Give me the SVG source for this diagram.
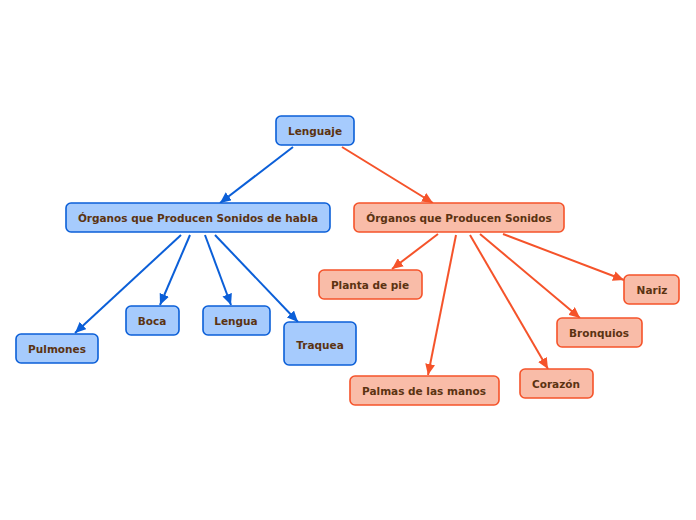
<svg xmlns="http://www.w3.org/2000/svg" width="696" height="520" viewBox="0 0 696 520">
<style>
.b rect{fill:#a6cbfd;stroke:#0b5fd8;stroke-width:1.6}
.o rect{fill:#f9bca8;stroke:#f5532a;stroke-width:1.6}
text{font-family:"DejaVu Sans",Verdana,sans-serif;font-weight:bold;font-size:10.5px;fill:#5b3312;text-anchor:middle;dominant-baseline:central}
.cb{stroke:#0b5fd8;stroke-width:2;fill:none;marker-end:url(#ab)}
.co{stroke:#f5532a;stroke-width:2;fill:none;marker-end:url(#ao)}
</style>
<defs>
<marker id="ab" markerUnits="userSpaceOnUse" markerWidth="12" markerHeight="10" refX="11" refY="5" orient="auto"><path d="M0,0 L11,5 L0,10 Z" fill="#0b5fd8"/></marker>
<marker id="ao" markerUnits="userSpaceOnUse" markerWidth="12" markerHeight="10" refX="11" refY="5" orient="auto"><path d="M0,0 L11,5 L0,10 Z" fill="#f5532a"/></marker>
</defs>
<rect width="696" height="520" fill="#fff"/>
<g id="connectors">
<path class="cb" d="M293,147 L220,203"/>
<path class="co" d="M342,147 L433,203"/>
<path class="cb" d="M181,235 L75,333"/>
<path class="cb" d="M190,235 L160,305"/>
<path class="cb" d="M205,235 L231,305"/>
<path class="cb" d="M215,235 L298,322"/>
<path class="co" d="M438,234 L392,269"/>
<path class="co" d="M456,235 L428,375"/>
<path class="co" d="M470,235 L548,369"/>
<path class="co" d="M480,234 L580,318"/>
<path class="co" d="M503,234 L624,280"/>
</g>
<g id="n-lenguaje" class="b"><rect x="276" y="116" width="78" height="29" rx="5"/><text x="315" y="131">Lenguaje</text></g>
<g id="n-habla" class="b"><rect x="66" y="203" width="264" height="29" rx="5"/><text x="198" y="218">Órganos que Producen Sonidos de habla</text></g>
<g id="n-sonidos" class="o"><rect x="354" y="203" width="210" height="29" rx="5"/><text x="459" y="218">Órganos que Producen Sonidos</text></g>
<g id="n-pulmones" class="b"><rect x="16" y="334" width="82" height="29" rx="5"/><text x="57" y="349">Pulmones</text></g>
<g id="n-boca" class="b"><rect x="126" y="306" width="53" height="29" rx="5"/><text x="152" y="321">Boca</text></g>
<g id="n-lengua" class="b"><rect x="203" y="306" width="67" height="29" rx="5"/><text x="236" y="321">Lengua</text></g>
<g id="n-traquea" class="b"><rect x="284" y="322" width="72" height="43" rx="5"/><text x="320" y="345">Traquea</text></g>
<g id="n-planta" class="o"><rect x="319" y="270" width="103" height="29" rx="5"/><text x="370" y="285">Planta de pie</text></g>
<g id="n-nariz" class="o"><rect x="624" y="275" width="55" height="29" rx="5"/><text x="652" y="290">Nariz</text></g>
<g id="n-bronquios" class="o"><rect x="557" y="318" width="85" height="29" rx="5"/><text x="599" y="333">Bronquios</text></g>
<g id="n-corazon" class="o"><rect x="520" y="369" width="73" height="29" rx="5"/><text x="556" y="384">Corazón</text></g>
<g id="n-palmas" class="o"><rect x="350" y="376" width="149" height="29" rx="5"/><text x="424" y="391">Palmas de las manos</text></g>
</svg>
